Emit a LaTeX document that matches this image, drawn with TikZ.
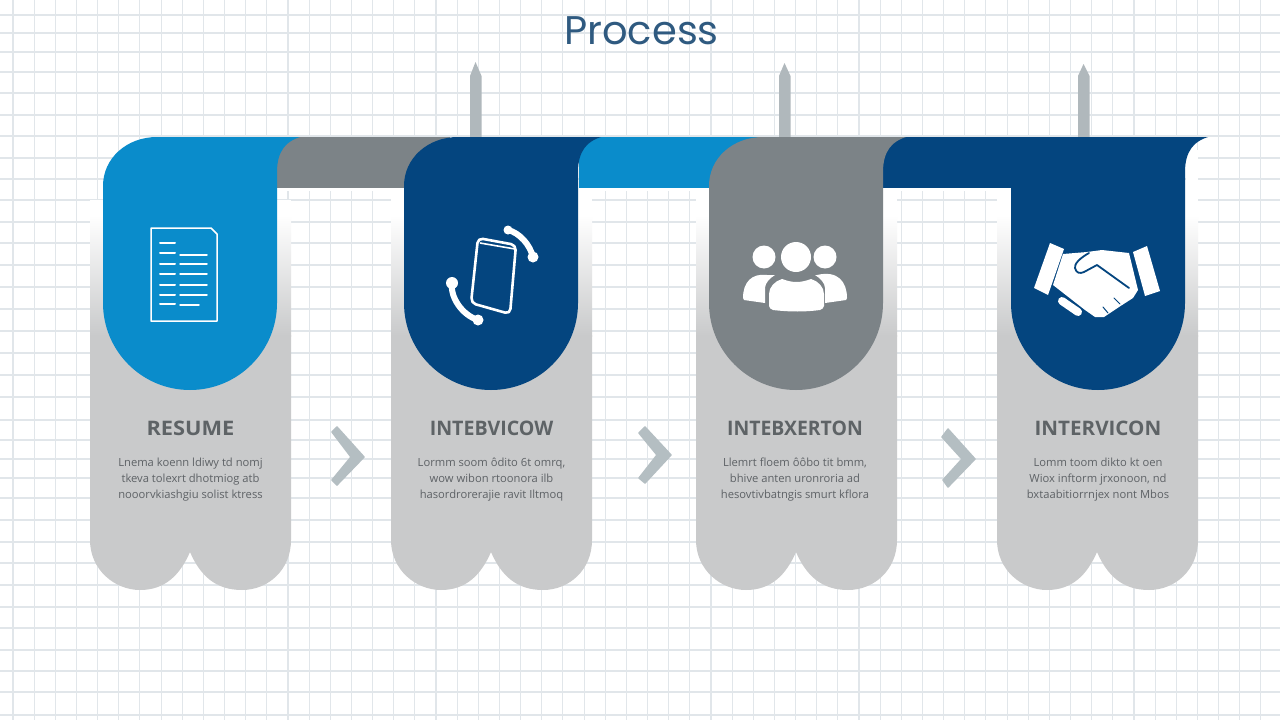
\documentclass[tikz,border=0pt]{standalone}
\usepackage{fontspec}
\setmainfont{Open Sans}
\newfontfamily\titlefont{Poppins}
\definecolor{lightblue}{HTML}{0A8CCB}
\definecolor{darkblue}{HTML}{04457F}
\definecolor{midgray}{HTML}{7C8387}
\definecolor{cardgray}{HTML}{C9CACB}
\definecolor{pingray}{HTML}{B0B8BC}
\definecolor{chevgray}{HTML}{B4BEC2}
\definecolor{gridline}{HTML}{E1E6EA}
\definecolor{titleblue}{HTML}{2F5A80}
\definecolor{labelgray}{HTML}{5E6366}
\definecolor{bodygray}{HTML}{5E6266}
\tikzset{
  titletext/.style={inner sep=0pt,anchor=base,font=\titlefont\fontsize{40}{42}\selectfont,text=titleblue},
  labeltext/.style={inner sep=0pt,anchor=base,font=\bfseries\fontsize{20}{22}\selectfont,text=labelgray},
  bodytext/.style={inner sep=0pt,anchor=base,font=\fontsize{11.2}{13}\selectfont,text=bodygray},
  gridstroke/.style={draw=gridline,line width=1.1pt},
  iconline/.style={draw=white,line width=1.5pt,line cap=round,line join=round},
  iconfill/.style={fill=white,draw=none},
  chevron/.style={fill=chevgray,draw=chevgray,line width=1.5pt,line join=round}
}
% card body: left x, top of the fade
\newcommand{\cardbody}[2]{%
  \begin{scope}[shift={(#1,0)}]
    \fill[white] (0,#2) rectangle (201,216);
    \shade[top color=white,bottom color=cardgray] (0,215) rectangle (201,336);
    \fill[cardgray] (0,335) -- (201,335) -- (201,540)
      .. controls (201,570) and (178,590) .. (152,590)
      .. controls (125,590) and (110,575) .. (100,552)
      .. controls (90,575) and (75,590) .. (50,590)
      .. controls (25,590) and (0,570) .. (0,540) -- cycle;
  \end{scope}}
% coloured tab: left x, colour
\newcommand{\tabshape}[2]{%
  \fill[#2] (#1,186) .. controls (#1,158) and (#1+24,137) .. (#1+54,137)
    -- (#1+197,137) .. controls (#1+184,141) and (#1+174,150) .. (#1+174,172)
    -- (#1+174,303) arc[start angle=0,end angle=180,radius=87] -- cycle;}
\newcommand{\pinshape}[2]{%
  \fill[pingray] (#1,137) -- (#1,76) -- (#1+5.5,#2) -- (#1+11.5,76) -- (#1+11.5,137) -- cycle;}
\begin{document}
\begin{tikzpicture}[x=1pt,y=-1pt]
\useasboundingbox (0,0) rectangle (1280,720);
\fill[white] (0,0) rectangle (1280,720);
% grid
\foreach \k in {0,...,60} \draw[gridstroke] ({13+21.15*\k},0) -- ({13+21.15*\k},720);
\foreach \yy in {15,33,52,72,93,115,136,158,179,200,222,243,265,287,309,331,353,375,397,420,440,459,478,498,520,542,563,585,607,628,650,671,692,715}
  \draw[gridstroke] (0,\yy) -- (1280,\yy);
% pins
\pinshape{470}{62}
\pinshape{779}{63}
\pinshape{1078}{64}
% card bodies
\cardbody{90}{200}
\cardbody{391}{188}
\cardbody{696}{188}
\cardbody{997}{188}
\fill[white] (1186,150) rectangle (1198,190);
\fill[white] (277,188) rectangle (391,191);
\fill[white] (579,188) rectangle (696,191);
\fill[white] (883,188) rectangle (997,191);
% bands
\fill[midgray] (277,137) rectangle (450,188);
\fill[lightblue] (579,137) rectangle (760,188);
\fill[darkblue] (883,137) rectangle (1100,188);
% tabs
\tabshape{103}{lightblue}
\tabshape{404}{darkblue}
\tabshape{709}{midgray}
\tabshape{1011}{darkblue}
% chevrons
\fill[chevron] (332,432) -- (337,427) -- (364,457) -- (337,485) -- (332,480) -- (351,457) -- cycle;
\fill[chevron] (639,433) -- (645,427) -- (671,455) -- (645,483) -- (639,478) -- (657,455) -- cycle;
\fill[chevron] (942,437) -- (948,429) -- (975,459) -- (948,487) -- (943,480) -- (962,459) -- cycle;
% document icon
\draw[iconline] (151,228) -- (211,228) -- (217,234) -- (217,321) -- (151,321) -- cycle;
\foreach \yy in {243,253,264,274,285,295,304} \draw[iconline,line width=2pt] (160,\yy) -- (175,\yy);
\foreach \yy in {255,264,274,285,295} \draw[iconline] (180,\yy) -- (207,\yy);
\draw[iconline] (180,305) -- (199,305);
% phone icon
\draw[draw=white,line width=2.6pt,rounded corners=5pt,line join=round] (478,238) -- (516,245) -- (510,314) -- (471,303) -- cycle;
\draw[draw=white,line width=1.6pt] (480,243) -- (515,249);
\draw[draw=white,line width=6pt,line cap=round] (508,230) .. controls (520,233) and (530,245) .. (533,257);
\fill[white] (508,230) circle (4.5);
\fill[white] (533,257) circle (5.5);
\draw[draw=white,line width=6pt,line cap=round] (452,283) .. controls (450,297) and (462,315) .. (478,320);
\fill[white] (452,283) circle (6);
\fill[white] (478,320) circle (5.5);
% people icon
\fill[iconfill] (796,257) circle (15);
\fill[iconfill] (764,257) circle (11.5);
\fill[iconfill] (825,257) circle (11.5);
\fill[iconfill] (767,275) .. controls (752,273) and (743,282) .. (743,298) -- (744,300) -- (765,303) -- (765,288) .. controls (765,283) and (770,278) .. (775,275) -- cycle;
\fill[iconfill] (817,275) .. controls (838,270) and (847,282) .. (847,298) -- (846,300) -- (825,303) -- (825,288) .. controls (825,283) and (820,278) .. (815,275) -- cycle;
\fill[iconfill] (782,279) .. controls (775,281) and (769,287) .. (769,294) -- (769,306) .. controls (769,308) and (771,309) .. (773,310) .. controls (790,312) and (805,312) .. (820,310) .. controls (822,309) and (824,308) .. (824,306) -- (824,294) .. controls (824,287) and (818,281) .. (811,279) .. controls (800,283) and (793,283) .. (782,279) -- cycle;
% handshake icon
\fill[iconfill] (1050,243) -- (1064,249) -- (1048,295) -- (1034,288) -- cycle;
\fill[iconfill] (1133,252) -- (1147,246) -- (1160,291) -- (1145,296) -- cycle;
\fill[iconfill] (1063,254) -- (1087,252) -- (1102,250) -- (1129,253) -- (1138,290) -- (1133,298) -- (1119,307) -- (1104,317) -- (1095,317) -- (1085,310) -- (1053,285) -- cycle;
\draw[darkblue,line width=1.8pt,line join=round,line cap=round] (1089,253) .. controls (1080,258) and (1074,264) .. (1075,268) .. controls (1076,273) and (1080,274) .. (1084,272) -- (1097,265) -- (1129,288);
\draw[darkblue,line width=1pt,line cap=round] (1108,313) -- (1103,307);
\draw[darkblue,line width=1pt,line cap=round] (1120,304) -- (1114,298);
\draw[white,line width=8pt,line cap=round] (1062,301) -- (1078,312);
% texts
\node[titletext] (title) at (641.5,44) {Process};
\node[labeltext,xscale=1.09,transform shape] (l1) at (190.5,435) {RESUME};
\node[bodytext] (a1) at (190.5,466) {Lnema koenn ldiwy td nomj};
\node[bodytext] (a2) at (190.5,482) {tkeva tolexrt dhotmiog atb};
\node[bodytext] (a3) at (190.5,498) {nooorvkiashgiu solist ktress};
\node[labeltext,xscale=.98,transform shape] (l2) at (491.5,435) {INTEBVICOW};
\node[bodytext] (b1) at (491.5,466) {Lormm soom ôdito 6t omrq,};
\node[bodytext] (b2) at (491.5,482) {wow wibon rtoonora ilb};
\node[bodytext] (b3) at (491.5,498) {hasordrorerajie ravit Iltmoq};
\node[labeltext,xscale=.97,transform shape] (l3) at (795,435) {INTEBXERTON};
\node[bodytext] (c1) at (795,466) {Llemrt floem ôôbo tit bmm,};
\node[bodytext] (c2) at (795,482) {bhive anten uronroria ad};
\node[bodytext] (c3) at (795,498) {hesovtivbatngis smurt kflora};
\node[labeltext,xscale=1.03,transform shape] (l4) at (1098,435) {INTERVICON};
\node[bodytext] (d1) at (1098,466) {Lomm toom dikto kt oen};
\node[bodytext] (d2) at (1098,482) {Wiox inftorm jrxonoon, nd};
\node[bodytext] (d3) at (1098,498) {bxtaabitiorrnjex nont Mbos};
\end{tikzpicture}
\end{document}
